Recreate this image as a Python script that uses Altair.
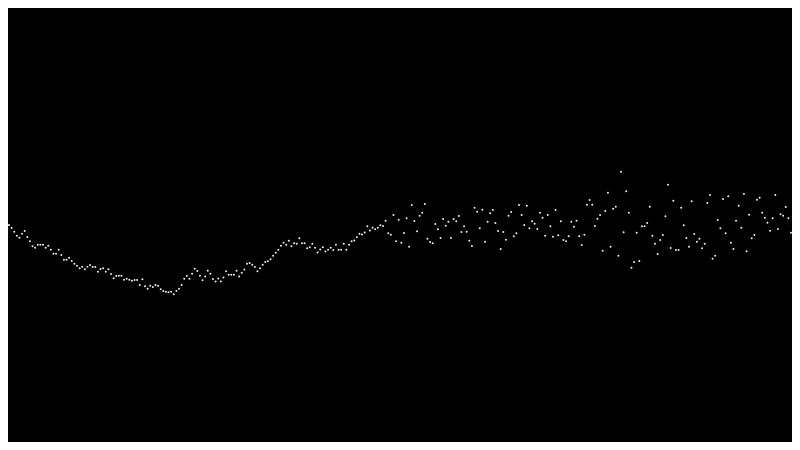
import altair as alt
import pandas as pd

# Signal level, one value per sample (300 samples)
seg1 = [2.5, 2.2, 1.83, 1.43, 1.23, 1.63, 1.9, 1.3, 0.87, 0.37,
        0.23, 0.53, 0.53, 0.53, 0.23, 0.43, 0.03, -0.37, -0.37, 0.03,
        -0.5, -0.97, -0.97, -0.77, -1.1, -1.37, -1.57, -1.83, -1.67, -1.93,
        -1.67, -1.5, -1.7, -1.7, -2.17, -1.9, -1.83]
seg2 = [-2.17, -1.93, -2.4, -2.83, -2.6, -2.57, -2.57, -2.97, -2.87, -2.97,
        -3.07, -3.0, -3.0, -3.5, -2.93, -3.63, -3.87, -3.57, -3.7, -3.5,
        -3.57, -3.93, -4.1, -4.17, -4.23, -4.17, -4.43, -4.1, -3.87, -3.5,
        -2.87, -2.6, -2.87, -2.37, -1.87, -2.1, -2.57, -3.03]
seg3 = [-2.65, -2.07, -2.37, -2.9, -3.15, -2.85, -3.15, -2.75, -2.13, -2.48,
        -2.48, -2.48, -2.07, -2.65, -2.27, -1.95, -1.37, -1.3, -1.47, -1.7,
        -2.12, -1.82, -1.48, -1.2, -1.12, -0.93, -0.57, -0.27, 0.03, 0.43,
        0.73, 0.53, 0.93, 0.37, 0.67, 0.62, 1.18]
seg4 = [0.67, 0.67, 0.18, 0.28, 0.62, 0.22, -0.25, 0.05, 0.28, -0.15,
        0.02, 0.23, 0.0, 0.52, 0.03, 0.03, 0.62, 0.03, 0.53, 0.87,
        0.95, 1.27, 1.62, 1.55, 1.75, 2.38, 1.95, 2.22, 2.07, 2.23,
        2.48, 2.39, 2.93, 1.67, 1.52, 3.5, 0.88, 3.02]
seg5 = [0.73, 1.7, 3.17, 0.33, 4.5, 2.9, 1.87, 3.43, 3.73, 4.6,
        1.13, 0.8, 0.67, 2.6, 2.07, 1.2, 3.1, 2.43, 2.83, 1.2,
        3.1, 2.87, 3.4, 1.8, 2.37, 1.83, 0.93, 0.4, 4.23, 3.83,
        2.17, 4.03, 0.83, 2.83, 3.67, 4.0, 2.7, 1.9]
seg6 = [0.1, 1.8, 1.03, 3.43, 3.8, 1.37, 1.67, 4.5, 3.5, 2.5,
        4.43, 2.17, 2.87, 2.63, 2.1, 3.73, 3.23, 1.43, 3.5, 2.37,
        1.33, 4.0, 1.47, 2.87, 1.0, 0.87, 1.37, 2.83, 2.33, 2.93,
        1.37, 0.5, 1.53, 4.53, 5.0, 4.53, 2.4]
seg7 = [3.13, 3.5, -0.07, 3.9, 5.73, 0.33, 4.13, 4.33, -0.57, 7.83,
        1.77, 5.87, 3.73, -1.77, -1.2, 1.73, -1.1, 2.37, 2.37, 2.7,
        4.33, 1.43, 0.63, -0.4, 1.0, 1.5, 3.37, 6.53, 0.2, 4.93,
        0.0, 0.0, 4.23, 2.47, 1.2, 0.33, 4.87, 1.6]
seg8 = [0.83, 1.13, 0.17, 0.63, 4.7, 5.5, -0.87, -0.57, 3.0, 2.17,
        5.1, 1.67, 5.37, 0.73, 0.1, 2.93, 4.43, 2.23, 5.6, -0.13,
        3.53, 1.17, 1.5, 5.03, 5.23, 3.73, 3.23, 2.73, 1.93, 3.17,
        5.5, 2.1, 3.57, 3.43, 4.3, 3.17, 1.73]

values = seg1 + seg2 + seg3 + seg4 + seg5 + seg6 + seg7 + seg8
steps = list(range(len(values)))

df = pd.DataFrame({"step": steps, "value": values})

chart = (
    alt.Chart(df)
    .mark_circle(size=4, color="#eeeeee", opacity=1, clip=True)
    .encode(
        x=alt.X("step:Q", axis=None, scale=alt.Scale(domain=[-0.38, 299.38], nice=False, zero=False)),
        y=alt.Y("value:Q", axis=None, scale=alt.Scale(domain=[-19.2, 24.2], nice=False, zero=False)),
    )
    .properties(width=784, height=434, padding=0, background="#000000")
    .configure_view(stroke=None, fill="#000000")
)

chart.save("out.html", embed_options={"renderer": "svg", "actions": False})
